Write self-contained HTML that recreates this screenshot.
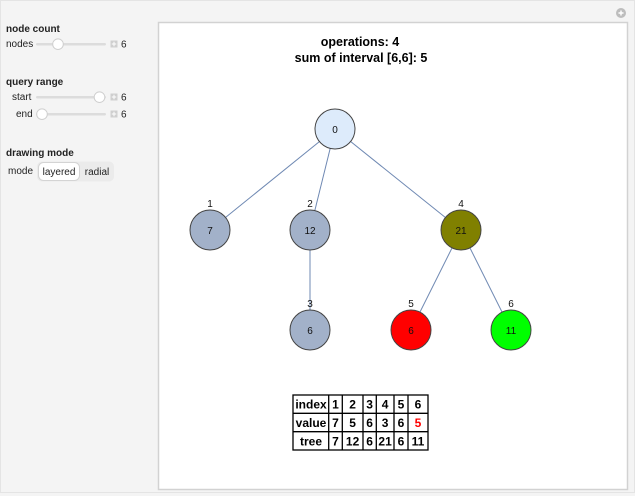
<!DOCTYPE html>
<html><head><meta charset="utf-8"><style>
html,body{margin:0;padding:0;width:635px;height:496px;overflow:hidden;background:#f4f4f4;}
svg{display:block;}
text{font-family:"Liberation Sans",Arial,sans-serif;}
</style></head><body>
<svg width="635" height="496" viewBox="0 0 635 496" xmlns="http://www.w3.org/2000/svg">
<rect x="0" y="0" width="635" height="496" fill="#f4f4f4"/>
<rect x="0.5" y="0.5" width="634" height="492" fill="none" stroke="#e4e4e4"/>
<!-- top-right icon -->
<circle cx="621" cy="13" r="5" fill="#bdbdbd"/>
<path d="M618.5 13h5M621 10.5v5" stroke="#fff" stroke-width="1.4"/>
<!-- main panel -->
<rect x="158.5" y="22.5" width="469" height="467" fill="#fff" stroke="#d2d2d2" stroke-width="1.5"/>

<!-- left controls -->
<g font-size="10" fill="#222">
<text x="6" y="32" font-weight="bold" font-size="10">node count</text>
<text x="6" y="47">nodes</text>
<text x="6" y="85" font-weight="bold">query range</text>
<text x="12" y="100">start</text>
<text x="16" y="117">end</text>
<text x="6" y="156" font-weight="bold">drawing mode</text>
<text x="8" y="174">mode</text>
</g>
<g>
<rect x="36" y="43" width="70" height="2.5" rx="1.2" fill="#dcdcdc"/>
<circle cx="58" cy="44.2" r="5.3" fill="#fff" stroke="#cfcfcf"/>
<rect x="110.5" y="40.5" width="7" height="7" fill="#cfcfcf"/>
<path d="M111.8 44h4.4M114 41.8v4.4" stroke="#fff" stroke-width="1"/>
<text x="121" y="47.5" font-size="10" fill="#222">6</text>

<rect x="36" y="96" width="70" height="2.5" rx="1.2" fill="#dcdcdc"/>
<circle cx="99.5" cy="97.2" r="5.3" fill="#fff" stroke="#cfcfcf"/>
<rect x="110.5" y="93.5" width="7" height="7" fill="#cfcfcf"/>
<path d="M111.8 97h4.4M114 94.8v4.4" stroke="#fff" stroke-width="1"/>
<text x="121" y="100.5" font-size="10" fill="#222">6</text>

<rect x="36" y="113" width="70" height="2.5" rx="1.2" fill="#dcdcdc"/>
<circle cx="42" cy="114.2" r="5.3" fill="#fff" stroke="#cfcfcf"/>
<rect x="110.5" y="110.5" width="7" height="7" fill="#cfcfcf"/>
<path d="M111.8 114h4.4M114 111.8v4.4" stroke="#fff" stroke-width="1"/>
<text x="121" y="117.5" font-size="10" fill="#222">6</text>

<rect x="37" y="161.5" width="77" height="20" rx="5" fill="#ebebeb"/>
<rect x="38.5" y="162.5" width="41" height="18" rx="5" fill="#fff" stroke="#d4d4d4"/>
<text x="59" y="175" font-size="10" fill="#222" text-anchor="middle">layered</text>
<text x="97" y="175" font-size="10" fill="#222" text-anchor="middle">radial</text>
</g>

<!-- title -->
<text x="360" y="46" font-size="12.5" font-weight="bold" text-anchor="middle" fill="#000">operations: 4</text>
<text x="361" y="62" font-size="12.5" font-weight="bold" text-anchor="middle" fill="#000">sum of interval [6,6]: 5</text>

<!-- edges -->
<g stroke="#6f89b3" stroke-width="1">
<line x1="335" y1="129" x2="210" y2="230"/>
<line x1="335" y1="129" x2="310" y2="230"/>
<line x1="335" y1="129" x2="461" y2="230"/>
<line x1="310" y1="230" x2="310" y2="330"/>
<line x1="461" y1="230" x2="411" y2="330"/>
<line x1="461" y1="230" x2="511" y2="330"/>
</g>
<!-- nodes -->
<g stroke="#444" stroke-width="1">
<circle cx="335" cy="129" r="20" fill="#ddebfb"/>
<circle cx="210" cy="230" r="20" fill="#a2b1c9"/>
<circle cx="310" cy="230" r="20" fill="#a2b1c9"/>
<circle cx="461" cy="230" r="20" fill="#808000"/>
<circle cx="310" cy="330" r="20" fill="#a2b1c9"/>
<circle cx="411" cy="330" r="20" fill="#ff0000"/>
<circle cx="511" cy="330" r="20" fill="#00ff00"/>
</g>
<g font-size="10" fill="#111" text-anchor="middle">
<text x="335" y="133">0</text>
<text x="210" y="234">7</text>
<text x="310" y="234">12</text>
<text x="461" y="234">21</text>
<text x="310" y="334">6</text>
<text x="411" y="334">6</text>
<text x="511" y="334">11</text>
<text x="210" y="207">1</text>
<text x="310" y="207">2</text>
<text x="461" y="207">4</text>
<text x="310" y="307">3</text>
<text x="411" y="307">5</text>
<text x="511" y="307">6</text>
</g>

<!-- table -->
<g stroke="#000" stroke-width="1.3" fill="none">
<rect x="293" y="395" width="135" height="55"/>
<line x1="293" y1="413.3" x2="428" y2="413.3"/>
<line x1="293" y1="431.7" x2="428" y2="431.7"/>
<line x1="328.7" y1="395" x2="328.7" y2="450"/>
<line x1="342.3" y1="395" x2="342.3" y2="450"/>
<line x1="363" y1="395" x2="363" y2="450"/>
<line x1="376.3" y1="395" x2="376.3" y2="450"/>
<line x1="394" y1="395" x2="394" y2="450"/>
<line x1="408" y1="395" x2="408" y2="450"/>
</g>
<g font-size="12" font-weight="bold" fill="#000" text-anchor="middle">
<text x="311" y="408.5">index</text>
<text x="335.5" y="408.5">1</text>
<text x="352.6" y="408.5">2</text>
<text x="369.6" y="408.5">3</text>
<text x="385.1" y="408.5">4</text>
<text x="401" y="408.5">5</text>
<text x="418" y="408.5">6</text>

<text x="311" y="427">value</text>
<text x="335.5" y="427">7</text>
<text x="352.6" y="427">5</text>
<text x="369.6" y="427">6</text>
<text x="385.1" y="427">3</text>
<text x="401" y="427">6</text>
<text x="418" y="427" fill="#ff0000">5</text>

<text x="311" y="445.5">tree</text>
<text x="335.5" y="445.5">7</text>
<text x="352.6" y="445.5">12</text>
<text x="369.6" y="445.5">6</text>
<text x="385.1" y="445.5">21</text>
<text x="401" y="445.5">6</text>
<text x="418" y="445.5">11</text>
</g>
</svg>
</body></html>
